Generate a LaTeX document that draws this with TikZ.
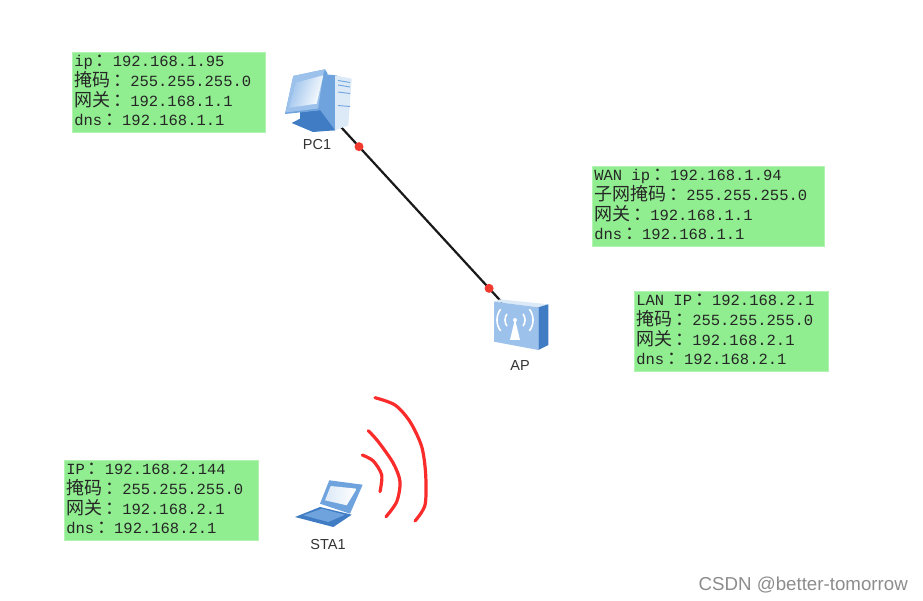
\documentclass[tikz,border=0pt]{standalone}
\usepackage{fontspec}
\setmainfont{Liberation Sans}
\setmonofont{Liberation Mono}
\newfontfamily\cjk{Noto Sans CJK SC}
\definecolor{boxgreen}{HTML}{90EE90}
\definecolor{wavered}{HTML}{F92B2B}
\definecolor{portred}{HTML}{F2392E}
\definecolor{icondark}{HTML}{3F7CC4}
\definecolor{iconmid}{HTML}{6FA3DE}
\definecolor{iconlight}{HTML}{9CC2EC}
\definecolor{iconpale}{HTML}{DCE9F7}
\newcommand\zh[1]{{\cjk\fontsize{18}{19.7}\selectfont #1}}
\newcommand\sep{\makebox[20pt][l]{\hspace{3pt}\zh{：}}}
\newcommand\gap{\hspace{9.3pt}}
\newcommand\infolines[4]{\hspace*{1.5pt}#1\\\hspace*{1.5pt}#2\\\hspace*{1.5pt}#3\\\hspace*{1.5pt}#4\par\vspace{3pt}}
\tikzset{
  infobox/.style={fill=boxgreen, draw=boxgreen!70!white, line width=0.5pt, anchor=north west, align=left, inner sep=0pt,
    text=black!85, font={\fontsize{15.5}{19.7}\selectfont\ttfamily\lineskiplimit -20pt\relax}},
  hostlabel/.style={text=black!80, font=\fontsize{14.5}{16}\selectfont},
  port/.style={circle, fill=portred, inner sep=0pt, minimum size=9pt},
  hostspot/.style={inner sep=0pt, minimum size=1pt},
  redwave/.style={wavered, line width=3.2pt, line cap=round, line join=round}
}
\begin{document}
\begin{tikzpicture}[x=1pt,y=-1pt]
\useasboundingbox (0,0) rectangle (923,601);
\node[hostspot] (pc1) at (318,102) {};
\node[hostspot] (ap) at (520,322) {};
\draw[line width=2.2pt, black!90] (pc1.center) -- node[port, pos=0.203] (pc1port) {} node[port, pos=0.847] (apport) {} (ap.center);
% info boxes
\node[infobox, minimum width=193pt, minimum height=80pt, text width=192pt] (pc1info) at (72,52) {\infolines{ip\sep 192.168.1.95}{\zh{掩码}\sep 255.255.255.0}{\zh{网关}\sep 192.168.1.1}{dns\sep 192.168.1.1}};
\node[infobox, minimum width=232pt, minimum height=80pt, text width=231pt] (waninfo) at (592,166) {\infolines{WAN\gap ip\sep 192.168.1.94}{\zh{子网掩码}\sep 255.255.255.0}{\zh{网关}\sep 192.168.1.1}{dns\sep 192.168.1.1}};
\node[infobox, minimum width=194pt, minimum height=80pt, text width=193pt] (laninfo) at (634,291) {\infolines{LAN\gap IP\sep 192.168.2.1}{\zh{掩码}\sep 255.255.255.0}{\zh{网关}\sep 192.168.2.1}{dns\sep 192.168.2.1}};
\node[infobox, minimum width=194pt, minimum height=80pt, text width=193pt] (stainfo) at (64,460) {\infolines{IP\sep 192.168.2.144}{\zh{掩码}\sep 255.255.255.0}{\zh{网关}\sep 192.168.2.1}{dns\sep 192.168.2.1}};
% PC1
\fill[iconmid] (320,74) -- (337,75.3) -- (335,130.3) -- (316,130) -- cycle;
\fill[iconpale] (335,75.3) -- (351.7,78.7) -- (348.3,125.3) -- (335,130.3) -- cycle;
\foreach \y/\d in {80.5/2,85/2,92/1.5,105.5/1}
  \draw[iconmid, line width=0.9pt] (338,\y) -- (350,\y+\d);
\fill[icondark] (300,112) -- (320,110) -- (335,130.3) -- (313,132) -- (291.7,123) -- (300,118.7) -- cycle;
\fill[iconmid] (293.3,76) -- (325,69.3) -- (327.7,73.7) -- (320,110.3) -- (285,114) -- cycle;
\fill[iconlight] (293.3,76) -- (325,69.3) -- (323.5,73) -- (318,108.5) -- (285.5,112.5) -- cycle;
\shade[left color=iconlight, right color=white, shading angle=70] (295.7,82.7) -- (323.3,75.3) -- (316.7,103.7) -- (289.3,107.7) -- cycle;
\node[hostlabel] (pc1name) at (317,145) {PC1};
% AP
\fill[iconpale] (494,301.7) -- (500,299.3) -- (548.3,304.3) -- (538.3,307.3) -- cycle;
\fill[icondark] (538.3,307.3) -- (548.3,304.3) -- (548.3,345) -- (538.3,350) -- cycle;
\fill[iconlight] (494,301.7) -- (538.3,307.3) -- (538.3,350) -- (494,341.7) -- cycle;
\fill[white] (515,319) -- (510,340) -- (520,340) -- cycle;
\fill[white] (515,320) circle (2pt);
\foreach \r in {10,18} {
  \draw[white, line width=1.6pt] (515-\r*0.8,320-\r*0.6) arc[start angle=217, end angle=143, radius=\r];
  \draw[white, line width=1.6pt] (515+\r*0.8,320-\r*0.6) arc[start angle=-37, end angle=37, radius=\r];
}
\node[hostlabel] (apname) at (520,366) {AP};
% STA1
\fill[iconmid] (329.3,480.3) -- (362.7,484.7) -- (350,513.7) -- (320,503.7) -- cycle;
\shade[left color=iconpale, right color=white] (330.7,486) -- (356.7,488.7) -- (346.7,505.3) -- (325,500.3) -- cycle;
\fill[icondark] (295,517) -- (320,507) -- (351.7,514.7) -- (333.3,527) -- cycle;
\fill[iconmid] (303.3,515.3) -- (321.7,508.7) -- (345,514.7) -- (328.3,522) -- cycle;
\node[hostlabel] (staname) at (328,545) {STA1};
% signal
\draw[redwave] plot[smooth] coordinates {(375,397.7) (395,405) (410,421.7) (421.7,446.7) (425.7,475) (425,505) (415,521)};
\draw[redwave] plot[smooth] coordinates {(368.3,430.7) (378.3,441.7) (393.3,463.3) (400,481.7) (396.7,501.7) (386,516.7)};
\draw[redwave] plot[smooth] coordinates {(362.3,455) (373.3,461) (381.7,475) (380,491.7)};
\node[text=black!45, inner sep=0pt, font=\fontsize{18.7}{20}\selectfont, anchor=east] (mark) at (908,585) {CSDN @better-tomorrow};
\end{tikzpicture}
\end{document}
